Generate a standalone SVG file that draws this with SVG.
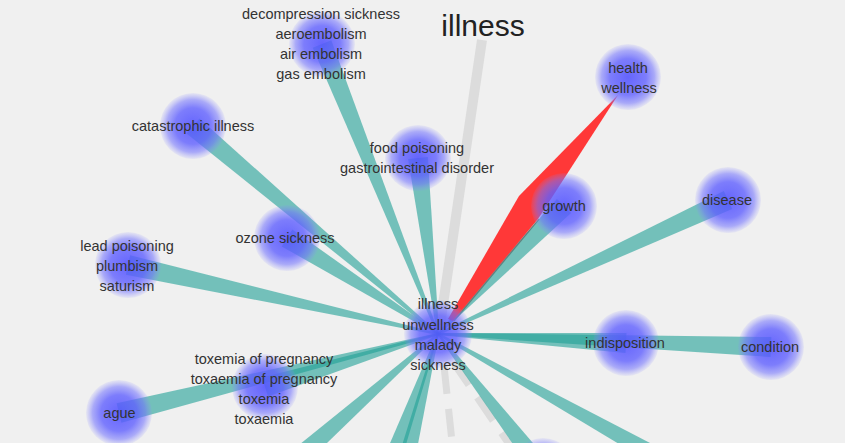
<svg xmlns="http://www.w3.org/2000/svg" width="845" height="443" viewBox="0 0 845 443">
<defs>
<radialGradient id="ng" cx="50%" cy="50%" r="50%">
<stop offset="0" stop-color="#5555ff" stop-opacity="0.9"/>
<stop offset="0.55" stop-color="#6060ff" stop-opacity="0.8"/>
<stop offset="0.8" stop-color="#7070ff" stop-opacity="0.55"/>
<stop offset="1" stop-color="#8888ff" stop-opacity="0.1"/>
</radialGradient>
</defs>
<style>
.bg{fill:#f0f0f0}
.lk{fill:rgb(32,160,150);fill-opacity:0.6}
.red{fill:#ff3838}
.gl{stroke:#dcdcdc;fill:none}
.gd{stroke:#dcdcdc;fill:none;stroke-width:7;stroke-dasharray:28 15}
.nd{fill:url(#ng)}
.t{font-family:"Liberation Sans",Arial,Helvetica,sans-serif;font-size:14.5px;fill:#333;text-anchor:middle}
.title{font-family:"Liberation Sans",Arial,Helvetica,sans-serif;font-size:30px;fill:#222;text-anchor:middle}
</style>
<rect class="bg" x="0" y="0" width="845" height="443"/>
<text class="title" x="483" y="36">illness</text>
<g id="connectors">
<line class="gl" x1="482" y1="40" x2="440" y2="325" stroke-width="10"/>
<line class="gd" x1="444" y1="366" x2="455" y2="470"/>
<line class="gd" x1="453" y1="362" x2="530" y2="475"/>
<polygon class="lk" points="438.9,333.6 331.3,40.3 312.7,47.7 437.1,334.4"/>
<polygon class="lk" points="438.6,333.2 199.5,118.4 186.5,133.6 437.4,334.8"/>
<polygon class="lk" points="439,333.9 427.9,156.9 408.1,159.1 437,334.1"/>
<polygon class="lk" points="438.5,333.2 292.3,229.6 281.7,246.4 437.5,334.8"/>
<polygon class="lk" points="438.2,333 130.1,255.2 125.9,274.8 437.8,335"/>
<polygon class="lk" points="437.7,333 262,377.5 268,396.5 438.3,335"/>
<polygon class="lk" points="437.8,333 116.6,403.3 121.4,422.7 438.2,335"/>
<polygon class="lk" points="438.7,334.7 571.1,213.1 556.9,198.9 437.3,333.3"/>
<polygon class="lk" points="438.4,334.9 732.2,209.1 723.8,190.9 437.6,333.1"/>
<polygon class="lk" points="437.9,335 625.5,353 626.5,333 438.1,333"/>
<polygon class="lk" points="437.9,335 770.6,357 771.4,337 438.1,333"/>
<polygon class="lk" points="437.2,334.6 535.1,476.1 550.9,463.9 438.8,333.4"/>
<polygon class="lk" points="437.5,334.9 685.1,483.7 694.9,466.3 438.5,333.1"/>
<polygon class="lk" points="437.3,333.3 283.3,457.6 296.7,472.4 438.7,334.7"/>
<polygon class="lk" points="437.1,333.7 375.6,476.7 394.4,483.3 438.9,334.3"/>
<polygon class="lk" points="437,333.8 390.3,482.6 409.7,487.4 439,334.2"/>
<polygon class="red" points="448,319 519,196 618,95 538,219 453,321"/>
<line x1="454" y1="321" x2="539" y2="219" stroke="#555" stroke-opacity="0.6" stroke-width="1.3"/>
</g>
<g id="n-decompression"><circle class="nd" cx="322" cy="44" r="33"/>
<text class="t" x="321" y="19">decompression sickness</text><text class="t" x="321" y="39">aeroembolism</text><text class="t" x="321" y="59">air embolism</text><text class="t" x="321" y="79">gas embolism</text></g>
<g id="n-catastrophic"><circle class="nd" cx="193" cy="126" r="33"/><text class="t" x="193" y="131">catastrophic illness</text></g>
<g id="n-food"><circle class="nd" cx="418" cy="158" r="33"/><text class="t" x="417" y="153">food poisoning</text><text class="t" x="417" y="173">gastrointestinal disorder</text></g>
<g id="n-ozone"><circle class="nd" cx="287" cy="238" r="33"/><text class="t" x="285" y="243">ozone sickness</text></g>
<g id="n-lead"><circle class="nd" cx="128" cy="265" r="33"/><text class="t" x="127" y="251">lead poisoning</text><text class="t" x="127" y="271">plumbism</text><text class="t" x="127" y="291">saturism</text></g>
<g id="n-health"><circle class="nd" cx="628" cy="77" r="33"/><text class="t" x="628" y="73">health</text><text class="t" x="629" y="93">wellness</text></g>
<g id="n-growth"><circle class="nd" cx="564" cy="206" r="33"/><text class="t" x="564" y="211">growth</text></g>
<g id="n-disease"><circle class="nd" cx="728" cy="200" r="33"/><text class="t" x="727" y="205">disease</text></g>
<g id="n-indisposition"><circle class="nd" cx="626" cy="343" r="33"/><text class="t" x="625" y="348">indisposition</text></g>
<g id="n-condition"><circle class="nd" cx="771" cy="347" r="33"/><text class="t" x="770" y="352">condition</text></g>
<g id="n-toxemia"><circle class="nd" cx="265" cy="387" r="33"/><text class="t" x="264" y="364">toxemia of pregnancy</text><text class="t" x="264" y="384">toxaemia of pregnancy</text><text class="t" x="264" y="404">toxemia</text><text class="t" x="264" y="424">toxaemia</text></g>
<g id="n-ague"><circle class="nd" cx="119" cy="413" r="33"/><text class="t" x="119.5" y="418">ague</text></g>
<g id="n-bottom"><circle class="nd" cx="543" cy="471" r="33"/></g>
<g id="n-center"><circle class="nd" cx="438" cy="334" r="34"/><text class="t" x="438" y="309">illness</text><text class="t" x="438" y="330">unwellness</text><text class="t" x="438" y="350">malady</text><text class="t" x="438" y="370">sickness</text></g>
</svg>
